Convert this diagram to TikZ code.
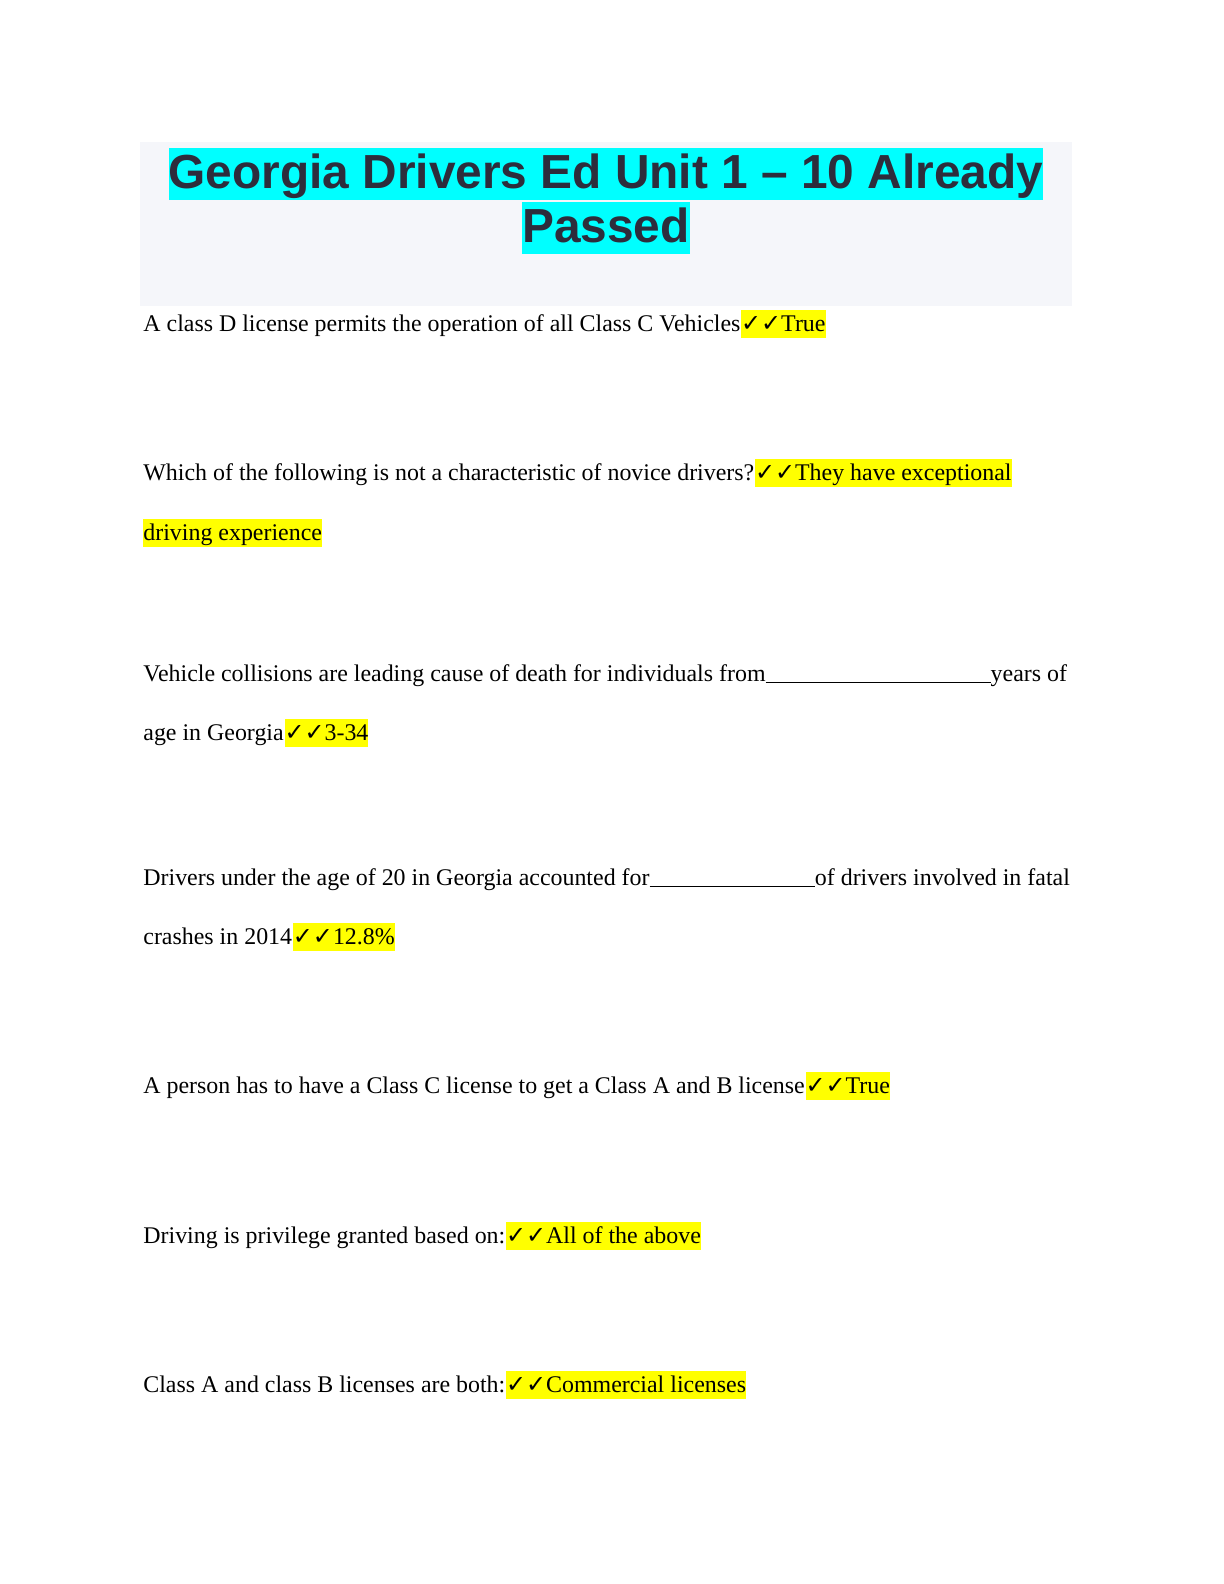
\documentclass[tikz,border=0pt]{standalone}
\usepackage{fontspec}
\setmainfont{Liberation Serif}
\newfontfamily\titlefont{Liberation Sans}
\newfontfamily\chk{DejaVu Sans}
\definecolor{hcyan}{RGB}{0,255,255}
\definecolor{hyel}{RGB}{255,255,0}
\definecolor{tbg}{RGB}{245,246,250}
\definecolor{ttext}{RGB}{45,45,60}
\begin{document}
\begin{tikzpicture}[x=0.5bp,y=-0.5bp,
  q/.style={anchor=base west,inner sep=0pt,font=\fontsize{12}{14}\selectfont},
  ans/.style={anchor=base west,inner xsep=0pt,inner ysep=0pt,fill=hyel,text depth=3.5pt,text height=10.5pt,font=\fontsize{12}{14}\selectfont},
  ttl/.style={anchor=base,inner xsep=0pt,inner ysep=0pt,fill=hcyan,text=ttext,text height=20pt,text depth=6pt,font=\titlefont\bfseries\fontsize{24}{28}\selectfont}]
\useasboundingbox (0,0) rectangle (1224,1584);
\fill[tbg] (140,142) rectangle (1072,306);
\node[ttl] (t1) at (606,188) {Georgia Drivers Ed Unit 1 – 10 Already};
\node[ttl] (t2) at (606,242) {Passed};
\newcommand{\ck}{{\chk\bfseries ✓✓}}
\node[q] (q1) at (143,331) {A class D license permits the operation of all Class C Vehicles\hspace{3pt}};
\node[ans] (a1) at (q1.base east) {\ck True};
\node[q] (q2) at (143,480) {Which of the following is not a characteristic of novice drivers?\hspace{3pt}};
\node[ans] (a2) at (q2.base east) {\ck They have exceptional};
\node[ans] (a2b) at (143,540) {driving experience};
\node[q] (q3) at (143,681) {Vehicle collisions are leading cause of death for individuals from\rule[-1pt]{113pt}{0.6pt}years of};
\node[q] (q3b) at (143,740) {age in Georgia\hspace{3pt}};
\node[ans] (a3) at (q3b.base east) {\ck 3-34};
\node[q] (q4) at (143,885) {Drivers under the age of 20 in Georgia accounted for\rule[-1pt]{83pt}{0.6pt}of drivers involved in fatal};
\node[q] (q4b) at (143,944) {crashes in 2014\hspace{3pt}};
\node[ans] (a4) at (q4b.base east) {\ck 12.8\%};
\node[q] (q5) at (143,1093) {A person has to have a Class C license to get a Class A and B license\hspace{3pt}};
\node[ans] (a5) at (q5.base east) {\ck True};
\node[q] (q6) at (143,1243) {Driving is privilege granted based on:\hspace{3pt}};
\node[ans] (a6) at (q6.base east) {\ck All of the above};
\node[q] (q7) at (143,1392) {Class A and class B licenses are both:\hspace{3pt}};
\node[ans] (a7) at (q7.base east) {\ck Commercial licenses};
\end{tikzpicture}
\end{document}
